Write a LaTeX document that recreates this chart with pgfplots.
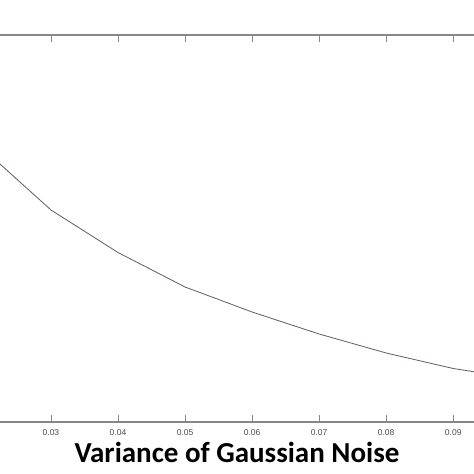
\documentclass[border=0pt]{standalone}
\usepackage{fontspec}
\setmainfont{Liberation Sans}
\newfontfamily\carlito{Carlito}
\usepackage{pgfplots}
\pgfplotsset{compat=1.18}
\definecolor{axgray}{RGB}{135,135,135}
\definecolor{curve}{RGB}{90,90,115}
\definecolor{ticktext}{RGB}{75,75,75}
\begin{document}
\begin{tikzpicture}
\begin{axis}[
  name=ax,
  scale only axis,
  width=474pt, height=387pt,
  xmin=0.0224, xmax=0.0931,
  ymin=0, ymax=387,
  clip=true,
  separate axis lines,
  scaled x ticks=false,
  ytick=\empty,
  xtick={0.03,0.04,0.05,0.06,0.07,0.08,0.09},
  xticklabels={0.03,0.04,0.05,0.06,0.07,0.08,0.09},
  tick align=inside,
  major tick length=7pt,
  every tick/.style={axgray, line width=0.9pt},
  x axis line style={axgray, line width=1.1pt},
  y axis line style={draw=none},
  xticklabel style={font=\fontsize{8.5}{10}\selectfont, text=ticktext, yshift=-4pt},
  xlabel={Variance of Gaussian Noise},
  xlabel style={at={(axis description cs:0.5,0)}, anchor=base, yshift=-41pt,
    font=\carlito\bfseries\fontsize{29}{32}\selectfont, text=black},
]
\addplot[curve, line width=0.8pt] coordinates {
 (0.02,272.5) (0.03,212) (0.04,169.5) (0.05,135) (0.06,110)
 (0.07,88) (0.08,69) (0.09,53.5) (0.10,43)
};
\end{axis}
\pgfresetboundingbox
\path ([yshift=-52pt]ax.south west) rectangle ([yshift=35pt]ax.north east);
\end{tikzpicture}
\end{document}
